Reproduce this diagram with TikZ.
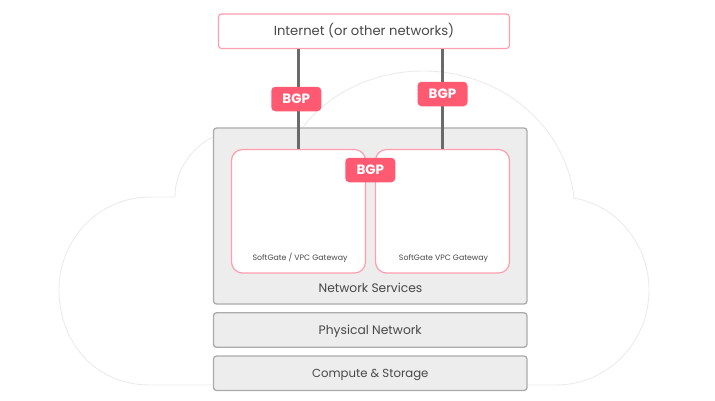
\documentclass[tikz,border=0pt]{standalone}
\usepackage{fontspec}
\setmainfont{Poppins}
\tikzset{
  cloudline/.style={draw=cloudgray,line width=0.9pt},
  outer/.style={draw=edgegray,fill=panelgray,line width=1.3pt,rounded corners=3pt,inner sep=0pt},
  pinkbox/.style={draw=softpink,fill=white,line width=1.2pt,inner sep=0pt},
  tag/.style={fill=tagred,rounded corners=4pt,inner sep=0pt,minimum width=50pt,minimum height=24.5pt,text=white,text height=9.6pt,text depth=0.9pt,font=\fontsize{13.5}{15}\selectfont\bfseries},
  link/.style={draw=linkgray,line width=2.4pt},
  lab/.style={text=labelgray,inner sep=0pt,text height=9pt,text depth=0.4pt,font=\fontsize{12.3}{14}\selectfont},
  smalllab/.style={text=labelgray,inner sep=0pt,text height=6pt,text depth=2pt,font=\fontsize{7.8}{10}\selectfont}
}
\definecolor{cloudgray}{HTML}{EBEBEB}
\definecolor{edgegray}{HTML}{ABABAB}
\definecolor{panelgray}{HTML}{EDEDED}
\definecolor{softpink}{HTML}{FF9EAE}
\definecolor{tagred}{HTML}{FF5A72}
\definecolor{linkgray}{HTML}{6A6A6A}
\definecolor{labelgray}{HTML}{484848}
\begin{document}
\begin{tikzpicture}[x=1pt,y=-1pt]
\useasboundingbox (0,0) rectangle (715,400);
% cloud outline
\draw[cloudline] (213,385) -- (150,385)
  .. controls (95,385) and (59,342) .. (59,290)
  .. controls (59,238) and (100,197) .. (150,197)
  -- (175,197)
  .. controls (175,170) and (192,147) .. (213,137)
  (303,127)
  .. controls (330,92) and (375,71) .. (423,71)
  .. controls (500,71) and (566,125) .. (574,198)
  .. controls (618,206) and (649,245) .. (649,290)
  .. controls (649,342) and (608,385) .. (556,385)
  -- (527,385);
% panels
\node[outer,minimum width=313.5pt,minimum height=176pt] (services) at (370.25,216) {};
\node[outer,minimum width=313.5pt,minimum height=34.5pt,lab] (physical) at (370.25,330) {Physical Network};
\node[outer,minimum width=313.5pt,minimum height=34.5pt,lab,font=\fontsize{11.7}{14}\selectfont] (compute) at (370.25,373.25) {Compute \& Storage};
\node[lab] (servicesname) at (370.5,288.6) {Network Services};
% top box and gateways
\node[pinkbox,rounded corners=3pt,minimum width=291pt,minimum height=34.5pt,lab,font=\fontsize{13.15}{15}\selectfont] (internet) at (364,31.25) {Internet (or other networks)};
\node[pinkbox,rounded corners=11pt,minimum width=134pt,minimum height=123.5pt] (gwa) at (298.5,211.25) {};
\node[pinkbox,rounded corners=11pt,minimum width=134pt,minimum height=123.5pt] (gwb) at (442.5,211.25) {};
\node[smalllab] (gwaname) at (300,258) {SoftGate / VPC Gateway};
\node[smalllab] (gwbname) at (443.5,258) {SoftGate VPC Gateway};
% links
\draw[link] (gwa.north) -- (gwa.north |- internet.south);
\draw[link] (gwb.north) -- (gwb.north |- internet.south);
% BGP tags
\node[tag] (bgpa) at (296.3,99) {BGP};
\node[tag] (bgpb) at (442.5,94) {BGP};
\node[tag] (bgpc) at (370.3,170) {BGP};
\end{tikzpicture}
\end{document}
